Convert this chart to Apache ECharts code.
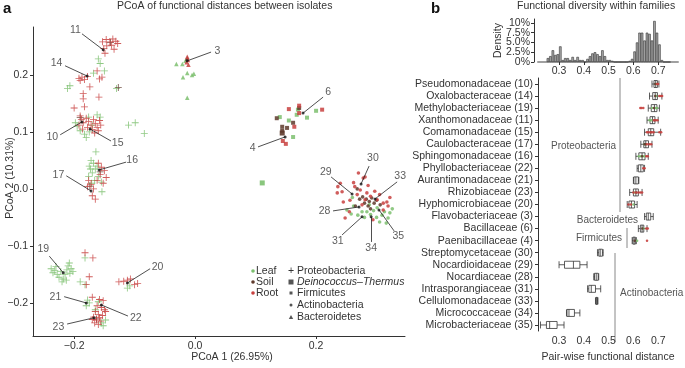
<!DOCTYPE html>
<html>
<head>
<meta charset="utf-8">
<script src="https://cdn.jsdelivr.net/npm/echarts@6/dist/echarts.min.js"></script>
<style>
html,body{margin:0;padding:0;background:#fff;}
#main{width:685px;height:368px;}
</style>
</head>
<body>
<div id="main"></div>
<script>
// ---------- panel a : PCoA points (x = PCoA 1, y = PCoA 2) ----------
var proteoLeaf = [
  [-0.160,0.228],[-0.157,0.220],[-0.150,0.207],[-0.168,0.203],[-0.207,0.181],[-0.211,0.176],[-0.130,0.176],
  [-0.198,0.116],[-0.195,0.110],[-0.190,0.102],[-0.183,0.096],[-0.180,0.090],[-0.175,0.100],[-0.170,0.112],
  [-0.157,0.126],[-0.176,0.126],[-0.110,0.112],[-0.099,0.116],[-0.084,0.097],[-0.162,0.130],
  [-0.164,0.065],[-0.172,0.050],[-0.168,0.045],[-0.175,0.040],[-0.165,0.035],[-0.170,0.028],[-0.176,0.022],
  [-0.160,0.022],[-0.166,0.015],[-0.155,0.012],[-0.173,0.035],[-0.162,0.040],[-0.154,-0.005],[-0.171,0.010],
  [-0.238,-0.140],[-0.235,-0.147],[-0.230,-0.136],[-0.228,-0.150],[-0.225,-0.155],[-0.222,-0.145],[-0.218,-0.158],
  [-0.215,-0.150],[-0.212,-0.142],[-0.210,-0.135],[-0.207,-0.148],[-0.205,-0.140],[-0.202,-0.145],[-0.220,-0.163],
  [-0.213,-0.160],[-0.190,-0.163],[-0.182,-0.168],[-0.182,-0.121],[-0.232,-0.143],[-0.208,-0.130],
  [-0.112,-0.174],[-0.108,-0.170],
  [-0.178,-0.195],[-0.180,-0.205],[-0.175,-0.200],[-0.155,-0.235],[-0.152,-0.240],[-0.165,-0.212],[-0.160,-0.198],[-0.148,-0.230]
];
var proteoSoil = [[-0.190,0.125],[-0.157,0.030],[-0.163,-0.228],[-0.174,0.005],[-0.127,0.178],[-0.140,0.257]];
var proteoRoot = [
  [-0.153,0.258],[-0.147,0.262],[-0.141,0.258],[-0.136,0.263],[-0.131,0.259],[-0.128,0.255],[-0.138,0.252],
  [-0.146,0.251],[-0.151,0.246],[-0.149,0.238],[-0.134,0.245],
  [-0.192,0.194],[-0.187,0.196],[-0.183,0.192],[-0.178,0.197],[-0.190,0.190],[-0.162,0.207],[-0.158,0.193],
  [-0.154,0.196],[-0.174,0.179],[-0.185,0.167],[-0.185,0.158],[-0.159,0.161],[-0.200,0.142],[-0.183,0.144],
  [-0.190,0.128],[-0.188,0.122],[-0.185,0.116],[-0.192,0.112],[-0.180,0.124],[-0.176,0.118],[-0.172,0.112],
  [-0.168,0.122],[-0.165,0.115],[-0.162,0.108],[-0.170,0.104],[-0.158,0.120],[-0.156,0.112],[-0.178,0.108],
  [-0.186,0.105],[-0.166,0.098],[-0.160,0.102],
  [-0.160,0.045],[-0.155,0.038],[-0.150,0.032],[-0.157,0.025],[-0.147,0.020],[-0.162,0.015],[-0.152,0.010],
  [-0.176,0.015],[-0.172,0.008],[-0.178,0.004],[-0.168,0.000],[-0.170,-0.012],[-0.165,-0.018],
  [-0.182,-0.112],[-0.169,-0.121],[-0.175,-0.154],[-0.180,-0.168],
  [-0.126,-0.163],[-0.118,-0.162],[-0.112,-0.160],[-0.107,-0.158],[-0.100,-0.168],[-0.095,-0.166],
  [-0.170,-0.190],[-0.158,-0.194],[-0.152,-0.196],[-0.162,-0.205],[-0.155,-0.208],[-0.150,-0.212],[-0.165,-0.215],
  [-0.160,-0.220],[-0.168,-0.225],[-0.163,-0.230],[-0.158,-0.226],[-0.153,-0.222],[-0.166,-0.235],[-0.160,-0.238],
  [-0.156,-0.232],[-0.170,-0.229],[-0.148,-0.215]
];
var deinoLeaf = [[0.111,0.0105]];
var deinoSoil = [[0.144,0.098]];
var firmLeaf = [[0.140,0.126],[0.155,0.120],[0.168,0.130],[0.170,0.139],[0.185,0.125],[0.200,0.137],[0.162,0.091]];
var firmSoil = [[0.135,0.124],[0.144,0.109],[0.152,0.107],[0.144,0.102],[0.162,0.116],[0.172,0.142]];
var firmRoot = [[0.155,0.140],[0.172,0.146],[0.172,0.133],[0.210,0.139],[0.164,0.109],[0.145,0.084],[0.150,0.079]];
var actLeaf = [
  [0.251,-0.037],[0.258,-0.044],[0.284,-0.040],[0.301,-0.033],[0.309,-0.046],[0.322,-0.042],[0.319,-0.051],
  [0.269,-0.046],[0.290,-0.045],[0.295,-0.038],[0.300,-0.050],[0.313,-0.040],[0.262,-0.030],[0.276,-0.040],
  [0.305,-0.058],[0.326,-0.035],[0.280,-0.050],[0.316,-0.060],[0.260,-0.015],[0.288,-0.028]
];
var actSoil = [
  [0.277,-0.014],[0.283,-0.018],[0.288,-0.022],[0.292,-0.016],[0.296,-0.025],[0.300,-0.020],[0.280,-0.025],
  [0.272,-0.018],[0.286,-0.030],[0.306,-0.028],[0.265,-0.030],[0.290,-0.035],[0.268,0.000]
];
var actRoot = [
  [0.236,0.004],[0.235,-0.007],[0.243,-0.005],[0.245,-0.023],[0.248,-0.051],[0.262,0.011],[0.264,0.004],
  [0.278,0.019],[0.281,0.021],[0.273,-0.002],[0.281,-0.019],[0.284,-0.007],[0.290,-0.013],[0.301,-0.019],
  [0.311,-0.025],[0.317,-0.023],[0.319,-0.030],[0.311,-0.037],[0.294,-0.054],[0.256,-0.020],[0.268,-0.010],
  [0.276,-0.028],[0.297,-0.004],[0.305,-0.010],[0.286,0.006],[0.270,0.028],[0.255,-0.040],[0.240,0.010],[0.322,-0.015]
];
var bactLeaf = [[-0.031,0.219],[-0.021,0.219],[-0.013,0.2035],[-0.020,0.196],[-0.005,0.200],[-0.002,0.202],[-0.013,0.160],[-0.016,0.225]];
var bactSoil = [[-0.013,0.229]];
var bactRoot = [[-0.013,0.232],[-0.012,0.226],[-0.014,0.222],[-0.011,0.218]];

// family centroids and their numbers
var familyIds = ['11','14','3','10','15','16','17','19','20','21','22','23','6','4','30','29','33','28','31','34','35'];
var centroids = [
  [-0.152,0.244],[-0.1785,0.198],[-0.0132,0.2246],[-0.187,0.1175],[-0.1736,0.105],[-0.1587,0.0333],[-0.172,-0.0035],
  [-0.218,-0.147],[-0.112,-0.165],[-0.180,-0.200],[-0.155,-0.2035],[-0.167,-0.226],[0.1785,0.133],[0.1488,0.0912],
  [0.2744,0.0088],[0.2595,-0.0088],[0.2975,-0.0175],[0.271,-0.0316],[0.276,-0.049],[0.291,-0.049],[0.304,-0.0368]
];
// leader line ends and label anchors (annotation layout)
var leaderEnds = [
  [-0.187,0.272],[-0.215,0.216],[0.0264,0.240],[-0.223,0.095],[-0.139,0.084],[-0.114,0.047],[-0.213,0.023],
  [-0.241,-0.118],[-0.0744,-0.140],[-0.2165,-0.189],[-0.111,-0.223],[-0.2116,-0.237],[0.2116,0.161],[0.104,0.0737],
  [0.2876,0.040],[0.2248,0.021],[0.334,0.0123],[0.228,-0.0386],[0.243,-0.0807],[0.291,-0.093],[0.329,-0.0737]
];
var labelAnchors = [
  [-0.198,0.278],[-0.229,0.221],[0.037,0.242],[-0.236,0.090],[-0.128,0.080],[-0.104,0.050],[-0.226,0.025],
  [-0.251,-0.106],[-0.062,-0.138],[-0.231,-0.189],[-0.098,-0.226],[-0.226,-0.242],[0.220,0.169],[0.095,0.071],
  [0.294,0.054],[0.216,0.029],[0.339,0.022],[0.214,-0.0386],[0.236,-0.092],[0.291,-0.103],[0.336,-0.083]
];

// ---------- panel b : histogram ----------
var histBins = [0.255,0.265,0.275,0.285,0.295,0.305,0.315,0.325,0.335,0.345,0.355,0.365,0.375,0.385,0.395,0.405,
  0.415,0.425,0.435,0.445,0.455,0.465,0.475,0.485,0.495,0.505,0.515,0.525,0.535,0.545,0.555,0.565,0.575,
  0.585,0.595,0.605,0.615,0.625,0.635,0.645,0.655,0.665,0.675,0.685,0.695,0.705,0.715,0.725,0.735,0.745];
var histDensity = [1.0,1.5,3.0,1.8,2.0,4.0,0.5,1.0,1.0,0.5,1.3,0.5,1.3,0.5,0.5,0,
  0.8,1.5,2.2,2.5,2.0,1.5,3.0,1.5,0.5,0.5,0.3,0,0,0,0,0,0,
  0.3,0.8,2.7,5.0,7.5,7.5,5.5,7.5,7.2,5.5,10.5,7.5,4.5,0.5,0,0,0];
var distTicks = [0.3,0.4,0.5,0.6,0.7];
var densityTicks = [0,2.5,5,7.5,10];
var densityLabels = ['0%','2.5%','5.0%','7.5%','10%'];

// ---------- panel b : boxplots per family ----------
var families = ['Pseudomonadaceae (10)','Oxalobacteraceae (14)','Methylobacteriaceae (19)','Xanthomonadaceae (11)',
  'Comamonadaceae (15)','Caulobacteraceae (17)','Sphingomonadaceae (16)','Phyllobacteriaceae (22)',
  'Aurantimonadaceae (21)','Rhizobiaceae (23)','Hyphomicrobiaceae (20)','Flavobacteriaceae (3)','Bacillaceae (6)',
  'Paenibacillaceae (4)','Streptomycetaceae (30)','Nocardioidaceae (29)','Nocardiaceae (28)',
  'Intrasporangiaceae (31)','Cellulomonadaceae (33)','Micrococcaceae (34)','Microbacteriaceae (35)'];
var boxStats = [
  [0.675,0.683,0.690,0.697,0.703],[0.665,0.678,0.688,0.697,0.715],[0.660,0.672,0.685,0.695,0.705],
  [0.655,0.667,0.677,0.687,0.700],[0.645,0.660,0.670,0.682,0.710],[0.630,0.642,0.650,0.661,0.675],
  [0.610,0.622,0.635,0.647,0.660],[0.615,0.620,0.630,0.640,0.645],[0.600,0.602,0.610,0.620,0.622],
  [0.585,0.600,0.610,0.620,0.635],[0.575,0.582,0.592,0.605,0.615],[0.645,0.652,0.660,0.670,0.680],
  [0.620,0.628,0.635,0.642,0.655],[0.595,0.598,0.603,0.608,0.612],[0.455,0.460,0.466,0.475,0.478],
  [0.300,0.322,0.358,0.384,0.413],[0.440,0.443,0.450,0.458,0.460],[0.415,0.420,0.430,0.447,0.468],
  [0.447,0.449,0.452,0.455,0.457],[0.330,0.332,0.340,0.362,0.384],[0.225,0.249,0.262,0.292,0.320]
];
// [distance, family row]
var boxLeaf = [[0.690,0],[0.692,1],[0.675,2],[0.690,2],[0.695,2],[0.665,3],[0.672,3],[0.645,5],
  [0.622,6],[0.630,6],[0.638,6],[0.645,6],[0.605,9],[0.600,10],[0.640,12],[0.615,13]];
var boxRoot = [[0.695,0],[0.700,0],[0.705,1],[0.712,1],[0.716,1],[0.628,2],[0.633,2],[0.640,2],[0.683,3],[0.690,3],
  [0.697,3],[0.655,4],[0.660,4],[0.668,4],[0.675,4],[0.682,4],[0.705,4],[0.712,4],[0.655,5],[0.665,5],[0.672,5],
  [0.652,6],[0.658,6],[0.640,7],[0.645,7],[0.600,9],[0.610,9],[0.620,9],[0.628,9],[0.635,9],[0.580,10],[0.590,10],
  [0.652,12],[0.658,12],[0.655,13]];
var boxSoil = [[0.688,0],[0.688,1],[0.683,2],[0.685,3],[0.670,4],[0.650,5],[0.645,5],[0.635,6],[0.612,9],[0.636,12],[0.605,13]];

var LEAF = '#7cc06f', SOIL = '#5e3a2c', ROOT = '#c8413f', INK = '#333';
var PLUS = 'path://M4.4,0H5.6V4.4H10V5.6H5.6V10H4.4V5.6H0V4.4H4.4Z';

function fmtNum(v) {
  if (Math.abs(v) < 1e-9) return '0.0';
  return (v < 0 ? '\u2212' : '') + Math.abs(v).toFixed(1);
}

function pts(data, symbol, color, size, op) {
  return {
    type: 'scatter', xAxisIndex: 0, yAxisIndex: 0, data: data,
    symbol: symbol, symbolSize: size, silent: true, animation: false,
    itemStyle: {color: color, opacity: op || 0.85}
  };
}
function jit(data, color) {
  return {
    type: 'scatter', xAxisIndex: 2, yAxisIndex: 2, data: data, symbolSize: 2.5,
    silent: true, animation: false, z: 4, itemStyle: {color: color, opacity: 0.9}
  };
}
function txt(x, y, s, extra) {
  return {type: 'text', x: x, y: y, silent: true,
    style: Object.assign({text: s, fontSize: 10.5, fill: INK, verticalAlign: 'middle', fontFamily: FONT}, extra || {})};
}

var chart = echarts.init(document.getElementById('main'), null, {renderer: 'canvas'});
var FONT = 'Liberation Sans, Arial, sans-serif';

var axisTxt = {fontSize: 10.5, color: INK, fontFamily: FONT};

var option = {
  backgroundColor: '#fff',
  animation: false,
  textStyle: {fontFamily: FONT},
  grid: [
    {left: 33, right: 280, top: 27, bottom: 32},
    {left: 538, right: 7, top: 19, bottom: 306},
    {left: 538, right: 7, top: 78, bottom: 29}
  ],
  xAxis: [
    {type: 'value', gridIndex: 0, min: -0.268, max: 0.347, splitLine: {show: false},
      axisLine: {onZero: false, lineStyle: {color: INK, width: 1}},
      axisTick: {customValues: [-0.2, 0, 0.2], length: 3, lineStyle: {color: INK}},
      axisLabel: Object.assign({customValues: [-0.2, 0, 0.2], formatter: fmtNum, margin: 5}, axisTxt)},
    {type: 'value', gridIndex: 1, min: 0.215, max: 0.78, splitLine: {show: false},
      axisLine: {onZero: false, lineStyle: {color: '#a0a0a0', width: 2}},
      axisTick: {customValues: distTicks, length: 3, lineStyle: {color: INK}},
      axisLabel: Object.assign({customValues: distTicks, margin: 4}, axisTxt)},
    {type: 'value', gridIndex: 2, min: 0.215, max: 0.78, splitLine: {show: false},
      name: 'Pair-wise functional distance', nameLocation: 'middle', nameGap: 21,
      nameTextStyle: {fontSize: 10.5, color: INK},
      axisLine: {onZero: false, lineStyle: {color: INK}},
      axisTick: {customValues: distTicks, length: 3, lineStyle: {color: INK}},
      axisLabel: Object.assign({customValues: distTicks, margin: 5}, axisTxt)}
  ],
  yAxis: [
    {type: 'value', gridIndex: 0, min: -0.258, max: 0.284, splitLine: {show: false},
      axisLine: {show: true, onZero: false, lineStyle: {color: INK}},
      axisTick: {show: true, customValues: [-0.2, -0.1, 0, 0.1, 0.2], length: 3, lineStyle: {color: INK}},
      axisLabel: Object.assign({customValues: [-0.2, -0.1, 0, 0.1, 0.2], formatter: fmtNum, margin: 5}, axisTxt)},
    {type: 'value', gridIndex: 1, min: 0, max: 11, offset: 4, splitLine: {show: false},
      name: 'Density', nameLocation: 'middle', nameGap: 30, nameRotate: 90,
      nameTextStyle: {fontSize: 10.5, color: INK},
      axisLine: {show: true, onZero: false, lineStyle: {color: INK}},
      axisTick: {show: true, customValues: densityTicks, length: 3, lineStyle: {color: INK}},
      axisLabel: {show: false}},
    {type: 'category', gridIndex: 2, data: families, inverse: true,
      axisLine: {show: true, lineStyle: {color: INK}},
      axisTick: {show: true, alignWithLabel: true, length: 3, lineStyle: {color: INK}},
      axisLabel: Object.assign({margin: 5, interval: 0}, axisTxt)}
  ],
  series: [
    pts(proteoLeaf, PLUS, LEAF, 7),
    pts(bactLeaf, 'triangle', LEAF, 4.5),
    pts(firmLeaf, 'rect', LEAF, 4),
    pts(deinoLeaf, 'rect', LEAF, 5, 0.9),
    pts(actLeaf, 'circle', LEAF, 3.6),
    pts(proteoSoil, PLUS, SOIL, 7),
    pts(bactSoil, 'triangle', SOIL, 4.5),
    pts(firmSoil, 'rect', SOIL, 4),
    pts(deinoSoil, 'rect', SOIL, 5, 0.9),
    pts(actSoil, 'circle', SOIL, 3.6),
    pts(proteoRoot, PLUS, ROOT, 7),
    pts(bactRoot, 'triangle', ROOT, 4.5),
    pts(firmRoot, 'rect', ROOT, 4),
    pts(actRoot, 'circle', ROOT, 3.6),
    {
      type: 'lines', coordinateSystem: 'cartesian2d', xAxisIndex: 0, yAxisIndex: 0,
      silent: true, animation: false, z: 5,
      lineStyle: {color: '#222', width: 0.8, opacity: 1},
      data: centroids.map(function (c, i) { return {coords: [c, leaderEnds[i]]}; })
    },
    {
      type: 'scatter', xAxisIndex: 0, yAxisIndex: 0, symbolSize: 3, silent: true, z: 6,
      itemStyle: {color: '#111'}, data: centroids
    },
    {
      type: 'scatter', xAxisIndex: 0, yAxisIndex: 0, symbolSize: 1, silent: true, z: 6,
      itemStyle: {color: 'transparent'},
      label: {show: true, position: 'inside', fontSize: 10.5, color: INK, formatter: function (p) { return p.name; }},
      data: labelAnchors.map(function (a, i) { return {name: familyIds[i], value: a}; })
    },
    {
      type: 'bar', xAxisIndex: 1, yAxisIndex: 1, barWidth: 2.5, silent: true,
      itemStyle: {color: '#a8a8a8', borderColor: '#333', borderWidth: 0.6},
      data: histBins.map(function (b, i) { return [b, histDensity[i]]; })
    },
    {
      type: 'boxplot', xAxisIndex: 2, yAxisIndex: 2, boxWidth: [7, 7], silent: true,
      itemStyle: {color: '#fff', borderColor: '#333', borderWidth: 0.8},
      data: boxStats
    },
    jit(boxLeaf, LEAF),
    jit(boxSoil, SOIL),
    jit(boxRoot, ROOT)
  ]
};

chart.setOption(option);

// text, legend and annotations placed after layout so they follow the axes
var g = [
  {type: 'text', x: 3, y: 1, style: {text: 'a', fontSize: 15, fontWeight: 'bold', fill: '#111', fontFamily: FONT}},
  {type: 'text', x: 117, y: 1, style: {text: 'PCoA of functional distances between isolates', fontSize: 10.5, fill: INK, fontFamily: FONT}},
  {type: 'text', x: 232, y: 352, style: {text: 'PCoA 1 (26.95%)', fontSize: 10.5, fill: INK, align: 'center', fontFamily: FONT}},
  {type: 'text', x: 10, y: 178, rotation: Math.PI / 2,
    style: {text: 'PCoA 2 (10.31%)', fontSize: 10.5, fill: INK, align: 'center', verticalAlign: 'middle', fontFamily: FONT}},
  {type: 'text', x: 431, y: 1, style: {text: 'b', fontSize: 15, fontWeight: 'bold', fill: '#111', fontFamily: FONT}},
  {type: 'text', x: 517, y: 1, style: {text: 'Functional diversity within families', fontSize: 10.5, fill: INK, fontFamily: FONT}},

  // legend of panel a
  {type: 'circle', shape: {cx: 253, cy: 271, r: 1.8}, style: {fill: LEAF}},
  {type: 'circle', shape: {cx: 253, cy: 282, r: 1.8}, style: {fill: SOIL}},
  {type: 'circle', shape: {cx: 253, cy: 293, r: 1.8}, style: {fill: ROOT}},
  txt(256, 271, 'Leaf'), txt(256, 282, 'Soil'), txt(256, 293, 'Root'),
  txt(291, 271, '+', {align: 'center'}),
  {type: 'rect', shape: {x: 288.5, y: 279.5, width: 5, height: 5}, style: {fill: '#555'}},
  {type: 'rect', shape: {x: 289.5, y: 291.5, width: 3, height: 3}, style: {fill: '#555'}},
  {type: 'circle', shape: {cx: 291, cy: 305, r: 1.5}, style: {fill: '#555'}},
  {type: 'polygon', shape: {points: [[291, 315], [293.2, 319], [288.8, 319]]}, style: {fill: '#555'}},
  txt(297, 271, 'Proteobacteria'),
  txt(297, 282, 'Deinococcus\u2013Thermus', {fontStyle: 'italic'}),
  txt(297, 293, 'Firmicutes'),
  txt(297, 305, 'Actinobacteria'),
  txt(297, 317, 'Bacteroidetes'),

  // phylum brackets of panel b
  {type: 'line', shape: {x1: 620, y1: 78, x2: 620, y2: 212}, style: {stroke: '#888', lineWidth: 1}},
  txt(616, 146, 'Proteobacteria', {fill: '#555', align: 'right', fontSize: 10}),
  txt(638, 220, 'Bacteroidetes', {fill: '#555', align: 'right', fontSize: 10}),
  {type: 'line', shape: {x1: 627, y1: 228, x2: 627, y2: 248}, style: {stroke: '#888', lineWidth: 1}},
  txt(622, 238, 'Firmicutes', {fill: '#555', align: 'right', fontSize: 10}),
  {type: 'line', shape: {x1: 615, y1: 253, x2: 615, y2: 342}, style: {stroke: '#888', lineWidth: 1}},
  txt(620, 293, 'Actinobacteria', {fill: '#555', fontSize: 10})
];
// density tick labels of the histogram, positioned from its own y axis
densityTicks.forEach(function (v, i) {
  var p = chart.convertToPixel({xAxisIndex: 1, yAxisIndex: 1}, [0.215, v]);
  g.push(txt(p[0] - 8, p[1], densityLabels[i], {align: 'right', fontSize: 10.5}));
});
chart.setOption({graphic: g});
</script>
</body>
</html>
